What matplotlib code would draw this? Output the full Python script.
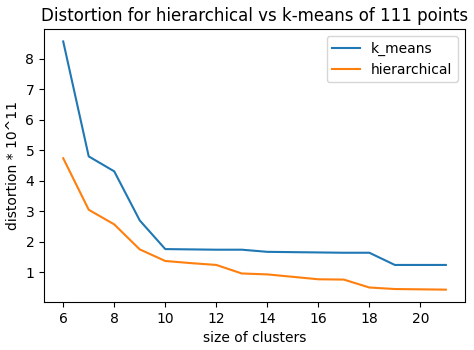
import matplotlib
matplotlib.use("Agg")
import matplotlib.pyplot as plt

clusters = list(range(6, 22))
k_means = [8.57, 4.80, 4.31, 2.70, 1.76, 1.75, 1.74, 1.74, 1.67, 1.66, 1.65, 1.64, 1.64, 1.24, 1.24, 1.24]
hierarchical = [4.74, 3.05, 2.57, 1.75, 1.37, 1.30, 1.24, 0.96, 0.93, 0.85, 0.77, 0.76, 0.50, 0.45, 0.44, 0.43]

fig, ax = plt.subplots(figsize=(4.74, 3.5), dpi=100)
ax.plot(clusters, k_means, label="k_means")
ax.plot(clusters, hierarchical, label="hierarchical")
ax.set_title("Distortion for hierarchical vs k-means of 111 points")
ax.set_xlabel("size of clusters")
ax.set_ylabel("distortion * 10^11")
ax.set_yticks([1, 2, 3, 4, 5, 6, 7, 8])
ax.legend(loc="upper right")
fig.subplots_adjust(left=0.093, right=0.981, top=0.917, bottom=0.137)
fig.savefig("out.png", dpi=100)
